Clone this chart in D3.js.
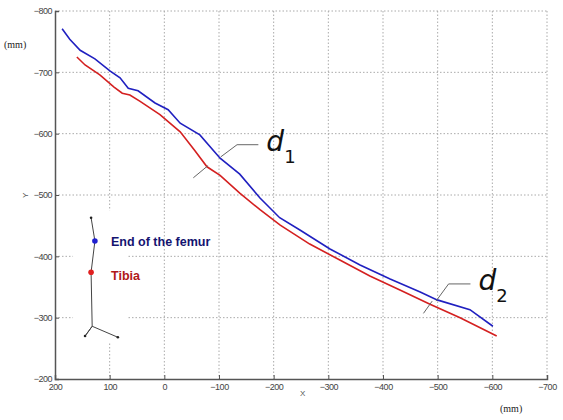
<!DOCTYPE html>
<html><head><meta charset="utf-8">
<script src="https://cdn.jsdelivr.net/npm/d3@7"></script>
<style>body{margin:0;background:#fff}text{font-family:"Liberation Sans",Arial,sans-serif}</style>
</head><body><div id="chart"></div>
<script>
// end of femur (blue) and tibia (red) trajectories, mm
const femurX = [187,173,154,127,99,81,66,48,17,-7,-29,-65,-102,-138,-175,-211,-248,-303,-358,-413,-468,-499,-559,-601];
const femurY = [-771,-754,-736,-722,-702,-691,-674,-670,-650,-639,-617,-598,-560,-534,-495,-463,-443,-412,-386,-363,-342,-329,-313,-286];
const tibiaX = [160,145,118,92,77,63,45,8,-29,-56,-78,-102,-138,-175,-212,-266,-321,-376,-431,-486,-541,-608];
const tibiaY = [-725,-712,-696,-676,-666,-663,-653,-631,-603,-572,-546,-532,-503,-476,-451,-420,-394,-368,-345,-322,-300,-270];
const legX = [134,127,134,132,145,132,85];
const legY = [-463,-425,-374,-286,-270,-286,-268];
const xTicks = [200,100,0,-100,-200,-300,-400,-500,-600,-700];
const yTicks = [-800,-700,-600,-500,-400,-300,-200];

const W = 563, H = 420;
const svg = d3.select("#chart").append("svg").attr("width", W).attr("height", H);
const x = d3.scaleLinear().domain([200, -700]).range([55, 547]);
const y = d3.scaleLinear().domain([-200, -800]).range([379, 11]);

// dotted grid
svg.append("g").selectAll("line").data(xTicks.slice(1)).enter().append("line")
  .attr("x1", d => x(d)).attr("x2", d => x(d)).attr("y1", y(-800)).attr("y2", y(-200))
  .attr("stroke", "#aaa").attr("stroke-dasharray", "1.5,2");
svg.append("g").selectAll("line").data(yTicks.slice(0, -1)).enter().append("line")
  .attr("x1", x(200)).attr("x2", x(-700)).attr("y1", d => y(d)).attr("y2", d => y(d))
  .attr("stroke", "#aaa").attr("stroke-dasharray", "1.5,2");

// white box behind legend figure
svg.append("rect").attr("x", x(167)).attr("y", y(-475)).attr("width", x(67) - x(167))
  .attr("height", y(-260) - y(-475)).attr("fill", "#fff");

// axes
const xa = svg.append("g").attr("transform", "translate(0," + y(-200) + ")")
  .call(d3.axisBottom(x).tickValues(xTicks).tickSize(-4).tickFormat(d3.format("d")));
const ya = svg.append("g").attr("transform", "translate(" + x(200) + ",0)")
  .call(d3.axisLeft(y).tickValues(yTicks).tickSize(-4).tickFormat(d3.format("d")));
[xa, ya].forEach(a => {
  a.select(".domain").attr("stroke", "#555").attr("stroke-width", 1.5);
  a.selectAll(".tick line").attr("stroke", "#555");
  a.selectAll("text").attr("fill", "#444").style("font-size", "9px").attr("letter-spacing", "-0.5");
});
xa.selectAll("text").attr("dy", "0.9em");

svg.append("text").attr("x", 300).attr("y", 396).attr("font-size", 8).attr("fill", "#555").text("X");
svg.append("text").attr("transform", "translate(28,198) rotate(-90)").attr("font-size", 8).attr("fill", "#555").text("Y");
svg.append("text").attr("x", 4).attr("y", 48).attr("font-size", 10).attr("fill", "#222")
  .style("font-family", "Liberation Serif, serif").text("(mm)");
svg.append("text").attr("x", 500).attr("y", 412).attr("font-size", 10).attr("fill", "#222")
  .style("font-family", "Liberation Serif, serif").text("(mm)");

// curves
const line = d3.line().x(d => x(d[0])).y(d => y(d[1]));
svg.append("path").datum(d3.zip(femurX, femurY)).attr("d", line)
  .attr("fill", "none").attr("stroke", "#2020c0").attr("stroke-width", 1.6);
svg.append("path").datum(d3.zip(tibiaX, tibiaY)).attr("d", line)
  .attr("fill", "none").attr("stroke", "#d42020").attr("stroke-width", 1.6);

// legend skeleton
svg.append("path").datum(d3.zip(legX, legY)).attr("d", line)
  .attr("fill", "none").attr("stroke", "#444").attr("stroke-width", 1);
[[0, "#222", 1.3], [4, "#222", 1.3], [6, "#222", 1.3], [1, "#2020d0", 2.8], [2, "#e02020", 2.8]].forEach(p => {
  svg.append("circle").attr("cx", x(legX[p[0]])).attr("cy", y(legY[p[0]])).attr("r", p[2]).attr("fill", p[1]);
});
svg.append("text").attr("x", 111).attr("y", 246).attr("font-size", 12.5).attr("font-weight", "bold")
  .attr("fill", "#141470").text("End of the femur");
svg.append("text").attr("x", 111).attr("y", 280).attr("font-size", 12.5).attr("font-weight", "bold")
  .attr("fill", "#b01818").text("Tibia");

// distance annotations
function annot(hx, hy, bx, by, tx, ty, fx, fy, sub) {
  svg.append("polyline").attr("points", [[x(hx), y(hy)], [x(bx), y(by)], [x(tx), y(ty)]].map(p => p.join(",")).join(" "))
    .attr("fill", "none").attr("stroke", "#666").attr("stroke-width", 1);
  svg.append("line").attr("x1", x(fx[0])).attr("y1", y(fy[0])).attr("x2", x(fx[1])).attr("y2", y(fy[1]))
    .attr("stroke", "#666").attr("stroke-width", 1);
  const t = svg.append("text").attr("x", x(hx) + 8).attr("y", y(hy) + 6).attr("fill", "#111")
    .style("font-family", "DejaVu Sans, sans-serif");
  t.append("tspan").attr("font-size", 28).attr("font-style", "italic").text("d");
  t.append("tspan").attr("font-size", 18).attr("dy", 12).text(sub);
}
annot(-172, -582, -133, -582, -103, -562, [-53, -80], [-528, -548], "1");
annot(-560, -355, -520, -355, -497, -327, [-474, -490], [-307, -327], "2");
</script></body></html>
